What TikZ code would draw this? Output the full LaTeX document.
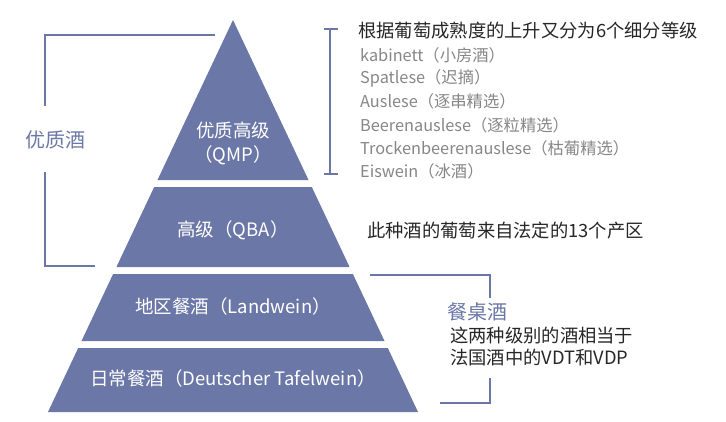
\documentclass[tikz,border=0pt]{standalone}
\usepackage{fontspec}
\setmainfont{Noto Sans CJK SC}
\begin{document}
\begin{tikzpicture}[x=1pt,y=-1pt,
  band/.style={fill=pyr,draw=none},
  lbl/.style={text=white,font=\fontsize{18.5}{24}\selectfont,inner sep=0},
  brk/.style={draw=pyr,line width=1.4pt},
  gry/.style={text=gray!95,font=\fontsize{16.3}{18}\selectfont,anchor=west,inner sep=0},
  blk/.style={text=black!85,font=\fontsize{18.3}{20}\selectfont,anchor=west,inner sep=0}]
\definecolor{pyr}{HTML}{6B77A6}
\useasboundingbox (0,0) rectangle (726,421);
\fill[band] (233,20) -- (233+80*0.944,180) -- (233-80*0.944,180) -- cycle;
\foreach \a/\b in {187/267,274/341,348/412}{
  \fill[band] ({233-(\a-20)*0.472},\a) -- ({233+(\a-20)*0.472},\a) -- ({233+(\b-20)*0.472},\b) -- ({233-(\b-20)*0.472},\b) -- cycle;}
\node[lbl,align=center] (qmp) at (233,143) {优质高级\\（QMP）};
\node[lbl] (qba) at (233,230) {高级（QBA）};
\node[lbl] (land) at (233,306) {地区餐酒（Landwein）};
\node[lbl] (dt) at (233,378) {日常餐酒（Deutscher Tafelwein）};
% left bracket
\draw[brk] (215,35) -- (45,35) -- (45,106);
\draw[brk] (45,172) -- (45,266) -- (95,266);
\node[text=pyr,font=\fontsize{20}{22}\selectfont] (yz) at (55,140) {优质酒};
% right bracket
\draw[brk] (330,29) -- (330,174);
\draw[brk] (324,29) -- (338,29);
\draw[brk] (324,174) -- (338,174);
\node[blk] (t) at (358,31) {根据葡萄成熟度的上升又分为6个细分等级};
\node[gry] at (360,55) {kabinett（小房酒）};
\node[gry] at (360,78) {Spatlese（迟摘）};
\node[gry] at (360,101) {Auslese（逐串精选）};
\node[gry] at (360,125) {Beerenauslese（逐粒精选）};
\node[gry] at (360,148) {Trockenbeerenauslese（枯葡精选）};
\node[gry] at (360,171) {Eiswein（冰酒）};
\node[blk] at (367,231) {此种酒的葡萄来自法定的13个产区};
% lower bracket
\draw[brk] (370,275) -- (490,275) -- (490,298);
\draw[brk] (490,378) -- (490,403) -- (440,403);
\node[text=pyr,font=\fontsize{20}{22}\selectfont,anchor=west,inner sep=0] at (447,312) {餐桌酒};
\node[blk] at (450,336) {这两种级别的酒相当于};
\node[blk] at (450,358) {法国酒中的VDT和VDP};
\end{tikzpicture}
\end{document}
